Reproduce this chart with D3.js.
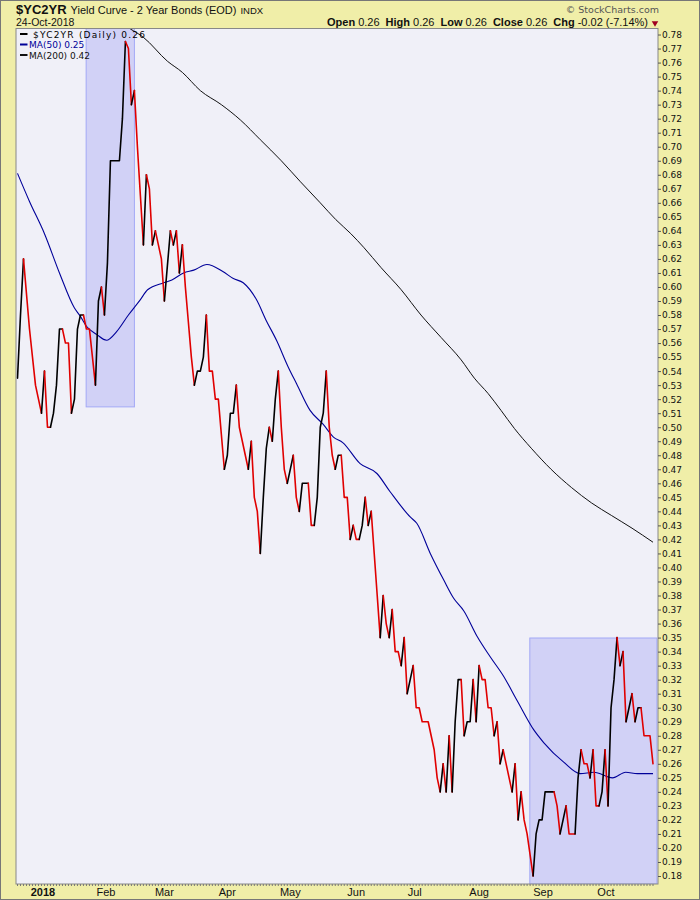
<!DOCTYPE html>
<html>
<head>
<meta charset="utf-8">
<script src="https://cdn.jsdelivr.net/npm/d3@7"></script>
<style>
  html, body { margin: 0; padding: 0; background: #ffffff; }
  svg { display: block; }
</style>
</head>
<body>
<div id="chart"></div>
<script>
// ---------- DATA ----------
// daily values of $YC2YR, one per trading day (mid-Dec 2017 .. 24-Oct-2018)
const priceVals = [
  0.535, 0.58, 0.62, 0.595, 0.57, 0.55, 0.53, 0.52, 0.51, 0.54,
  0.50, 0.50, 0.51, 0.53, 0.57, 0.57, 0.56, 0.56, 0.51, 0.52,
  0.57, 0.58, 0.58, 0.57, 0.57, 0.55, 0.53, 0.59, 0.60, 0.58,
  0.617, 0.69, 0.69, 0.69, 0.69, 0.72, 0.775, 0.77, 0.73, 0.74,
  0.70, 0.665, 0.63, 0.68, 0.67, 0.63, 0.64, 0.63, 0.62, 0.59,
  0.615, 0.64, 0.63, 0.64, 0.61, 0.63, 0.60, 0.575, 0.55, 0.53,
  0.54, 0.54, 0.55, 0.58, 0.54, 0.54, 0.52, 0.52, 0.495, 0.47,
  0.48, 0.51, 0.51, 0.53, 0.50, 0.49, 0.48, 0.47, 0.49, 0.45,
  0.44, 0.41, 0.45, 0.485, 0.50, 0.49, 0.52, 0.54, 0.50, 0.47,
  0.46, 0.47, 0.48, 0.45, 0.44, 0.46, 0.46, 0.46, 0.43, 0.43,
  0.45, 0.50, 0.51, 0.54, 0.50, 0.48, 0.47, 0.48, 0.48, 0.45,
  0.45, 0.42, 0.43, 0.42, 0.42, 0.43, 0.45, 0.43, 0.44, 0.41,
  0.38, 0.35, 0.38, 0.36, 0.35, 0.37, 0.34, 0.34, 0.33, 0.35,
  0.31, 0.32, 0.33, 0.30, 0.30, 0.29, 0.29, 0.29, 0.28, 0.27,
  0.25, 0.24, 0.26, 0.24, 0.28, 0.24, 0.29, 0.32, 0.32, 0.28,
  0.29, 0.29, 0.32, 0.29, 0.33, 0.32, 0.32, 0.30, 0.30, 0.28,
  0.29, 0.26, 0.27, 0.26, 0.25, 0.24, 0.26, 0.22, 0.24, 0.22,
  0.21, 0.195, 0.18, 0.21, 0.22, 0.22, 0.24, 0.24, 0.24, 0.24,
  0.23, 0.21, 0.22, 0.23, 0.21, 0.21, 0.21, 0.25, 0.27, 0.26,
  0.26, 0.25, 0.27, 0.23, 0.23, 0.24, 0.27, 0.23, 0.30, 0.32,
  0.35, 0.33, 0.34, 0.29, 0.30, 0.31, 0.29, 0.30, 0.30, 0.28,
  0.28, 0.28, 0.26
];

// MA(50) at sample day indices
const ma50Idx  = [0, 4, 9, 14, 19, 21, 23, 26.5, 29.7, 33, 37, 41, 43.4, 48.8, 51.5, 55.4, 58.8, 63.2, 68.5, 72, 75.3, 79.7, 83, 86.4, 90.3, 93.1, 97.6, 102, 105.4, 108.5, 114.3, 119.9, 124.3, 131, 133.2, 137.7, 142.2, 145.5, 148.9, 153.3, 157.8, 162, 166.7, 172.3, 175.6, 182.3, 187.7, 192.3, 198.5, 202.9, 206.8, 212];
const ma50Vals = [0.681, 0.661, 0.638, 0.610, 0.585, 0.579, 0.572, 0.566, 0.562, 0.568, 0.580, 0.591, 0.598, 0.603, 0.605, 0.610, 0.612, 0.616, 0.611, 0.606, 0.603, 0.591, 0.576, 0.562, 0.543, 0.531, 0.512, 0.502, 0.493, 0.489, 0.474, 0.467, 0.454, 0.436, 0.4315, 0.410, 0.391, 0.378, 0.369, 0.351, 0.336, 0.323, 0.305, 0.284, 0.275, 0.261, 0.253, 0.254, 0.250, 0.254, 0.253, 0.253];

// MA(200) at sample day indices
const ma200Idx  = [37.6, 42, 50, 55, 61, 68, 74.4, 81, 88, 94.4, 101, 106.2, 111.2, 115.6, 121.2, 128, 134.6, 141.3, 148, 152.4, 157, 161.3, 165.8, 171.4, 178, 184.8, 191.5, 198.2, 205, 212];
const ma200Vals = [0.784, 0.778, 0.761, 0.753, 0.740, 0.730, 0.719, 0.705, 0.690, 0.675, 0.660, 0.648, 0.638, 0.628, 0.614, 0.598, 0.580, 0.564, 0.548, 0.535, 0.524, 0.512, 0.499, 0.485, 0.470, 0.457, 0.446, 0.437, 0.428, 0.418];

// highlighted boxes (day index range, value range)
const boxIdx  = [[22.9, 39.0], [170.9, 213.3]];
const boxVals = [[0.5145, 0.7843], [0.1743, 0.3497]];

// x-axis month labels, at their day index
const monthLabels = ["2018", "Feb", "Mar", "Apr", "May", "Jun", "Jul", "Aug", "Sep", "Oct"];
const monthIdx    = [8.5, 29.5, 49, 70, 91, 113, 132.5, 154, 175.3, 196.3];

// y-axis tick labels
const yTicks = [0.18,0.19,0.20,0.21,0.22,0.23,0.24,0.25,0.26,0.27,0.28,0.29,0.30,0.31,0.32,0.33,0.34,0.35,0.36,0.37,0.38,0.39,0.40,0.41,0.42,0.43,0.44,0.45,0.46,0.47,0.48,0.49,0.50,0.51,0.52,0.53,0.54,0.55,0.56,0.57,0.58,0.59,0.60,0.61,0.62,0.63,0.64,0.65,0.66,0.67,0.68,0.69,0.70,0.71,0.72,0.73,0.74,0.75,0.76,0.77,0.78];

// header numbers
const quoteLabels = ["Open", "High", "Low", "Close", "Chg"];
const quoteValues = ["0.26", "0.26", "0.26", "0.26", "-0.02 (-7.14%)"];
const legendLabels = ["$YC2YR (Daily) 0.26", "MA(50) 0.25", "MA(200) 0.42"];

// ---------- DRAW ----------
const W = 700, H = 900;
const P = { left: 16, right: 658, top: 28.5, bottom: 884 };
const C = {
  outer: "#f0eea8", plot: "#f0f0f8", frame: "#888888",
  box: "#d1d1f6", boxStroke: "#a3a9f6",
  up: "#000000", down: "#e00000", ma50: "#000099", ma200: "#111111"
};

const svg = d3.select("#chart").append("svg").attr("width", W).attr("height", H);

svg.append("rect").attr("x", 0.5).attr("y", 0.5).attr("width", W - 1).attr("height", H - 1)
  .attr("fill", C.outer).attr("stroke", "#777").attr("stroke-width", 1);

const x = d3.scaleLinear().domain([0, priceVals.length - 1]).range([17.5, 653]);
const y = d3.scaleLinear().domain([0.1743, 0.7843]).range([P.bottom, P.top]);

svg.append("defs").append("clipPath").attr("id", "plotclip")
  .append("rect").attr("x", P.left).attr("y", P.top)
  .attr("width", P.right - P.left).attr("height", P.bottom - P.top);

svg.append("rect").attr("x", P.left).attr("y", P.top)
  .attr("width", P.right - P.left).attr("height", P.bottom - P.top)
  .attr("fill", C.plot);

const plot = svg.append("g").attr("clip-path", "url(#plotclip)");

// highlight boxes
plot.selectAll("rect.box").data(boxIdx).join("rect").attr("class", "box")
  .attr("x", (d) => x(d[0]))
  .attr("width", (d) => x(d[1]) - x(d[0]))
  .attr("y", (d, i) => y(boxVals[i][1]))
  .attr("height", (d, i) => y(boxVals[i][0]) - y(boxVals[i][1]))
  .attr("fill", C.box).attr("stroke", C.boxStroke).attr("stroke-width", 1);

// moving averages
const maLine = d3.line().x((d) => x(d[0])).y((d) => y(d[1])).curve(d3.curveMonotoneX);
plot.append("path").datum(ma200Idx.map((d, i) => [d, ma200Vals[i]]))
  .attr("d", maLine).attr("fill", "none").attr("stroke", C.ma200).attr("stroke-width", 1);
plot.append("path").datum(ma50Idx.map((d, i) => [d, ma50Vals[i]]))
  .attr("d", maLine).attr("fill", "none").attr("stroke", C.ma50).attr("stroke-width", 1.1);

// price line: black when rising, red when falling
const runs = [];
let prevDir = 1;
for (let i = 1; i < priceVals.length; i++) {
  let dir = Math.sign(priceVals[i] - priceVals[i - 1]);
  if (dir === 0) dir = prevDir;
  if (runs.length && runs[runs.length - 1].dir === dir) {
    runs[runs.length - 1].pts.push(i);
  } else {
    runs.push({ dir: dir, pts: [i - 1, i] });
  }
  prevDir = dir;
}
const pLine = d3.line().x((d) => x(d)).y((d) => y(priceVals[d]));
plot.selectAll("path.price").data(runs).join("path").attr("class", "price")
  .attr("d", (d) => pLine(d.pts))
  .attr("fill", "none")
  .attr("stroke", (d) => d.dir > 0 ? C.up : C.down)
  .attr("stroke-width", 1.6)
  .attr("stroke-linejoin", "round").attr("stroke-linecap", "round");

// frame
svg.append("rect").attr("x", P.left).attr("y", P.top)
  .attr("width", P.right - P.left).attr("height", P.bottom - P.top)
  .attr("fill", "none").attr("stroke", C.frame).attr("stroke-width", 1);

// right axis
const yAxis = d3.axisRight(y).tickValues(yTicks).tickSize(3).tickPadding(1)
  .tickFormat(d3.format(".2f"));
const gy = svg.append("g").attr("transform", `translate(${P.right},0)`).call(yAxis);
gy.select(".domain").remove();
gy.selectAll("line").attr("stroke", "#555");
gy.selectAll("text").attr("font-family", "DejaVu Sans, Verdana, sans-serif")
  .attr("font-size", 9).attr("fill", "#111");

// bottom axis: small day ticks and month labels
svg.append("g").selectAll("line").data(priceVals.map((d, i) => i)).join("line")
  .attr("x1", (d) => x(d)).attr("x2", (d) => x(d))
  .attr("y1", P.bottom).attr("y2", P.bottom + 2)
  .attr("stroke", "#777").attr("stroke-width", 1);
svg.append("g").selectAll("text").data(monthLabels).join("text")
  .attr("x", (d, i) => x(monthIdx[i])).attr("y", 896)
  .attr("text-anchor", "middle")
  .attr("font-family", "Liberation Sans, Arial, sans-serif")
  .attr("font-size", 11)
  .attr("font-weight", (d, i) => i === 0 ? "bold" : "normal")
  .attr("fill", "#111")
  .text((d) => d);

// header
const hdr = svg.append("text").attr("x", 16).attr("y", 14)
  .attr("font-family", "Liberation Sans, Arial, sans-serif").attr("fill", "#111");
hdr.append("tspan").attr("font-size", 13).attr("font-weight", "bold").text("$YC2YR");
hdr.append("tspan").attr("dx", 4).attr("font-size", 11).text("Yield Curve - 2 Year Bonds (EOD)");
hdr.append("tspan").attr("dx", 4).attr("font-size", 9.5).text("INDX");

svg.append("text").attr("x", 16).attr("y", 26)
  .attr("font-family", "Liberation Sans, Arial, sans-serif").attr("font-size", 10.5)
  .attr("fill", "#111").text("24-Oct-2018");

svg.append("text").attr("x", 659).attr("y", 12.5).attr("text-anchor", "end")
  .attr("font-family", "DejaVu Sans, Verdana, sans-serif").attr("font-size", 9.5)
  .attr("fill", "#555").text("\u00A9 StockCharts.com");

const q = svg.append("text").attr("x", 648).attr("y", 26).attr("text-anchor", "end")
  .attr("font-family", "Liberation Sans, Arial, sans-serif").attr("font-size", 11).attr("fill", "#111");
quoteLabels.forEach((lab, i) => {
  q.append("tspan").attr("font-weight", "bold").attr("dx", i === 0 ? 0 : 6).text(lab);
  q.append("tspan").attr("dx", 3).text(quoteValues[i]);
});
svg.append("path").attr("d", d3.symbol().type(d3.symbolTriangle).size(18)())
  .attr("transform", "translate(655,23) rotate(180)").attr("fill", "#a00020");

// legend
const legColors = [C.up, C.ma50, "#111"];
const legY = [37.5, 48, 58.5];
const legLen = [112, null, null];
legendLabels.forEach((lab, i) => {
  svg.append("line").attr("x1", 20).attr("x2", 27.5)
    .attr("y1", legY[i] - 3.5).attr("y2", legY[i] - 3.5)
    .attr("stroke", legColors[i]).attr("stroke-width", 2);
  const t = svg.append("text").attr("x", i === 0 ? 33 : 29).attr("y", legY[i])
    .attr("font-family", "DejaVu Sans, Verdana, sans-serif").attr("font-size", 9)
    .attr("fill", legColors[i]).text(lab);
  if (legLen[i]) t.attr("textLength", legLen[i]).attr("lengthAdjust", "spacing");
});
</script>
</body>
</html>
